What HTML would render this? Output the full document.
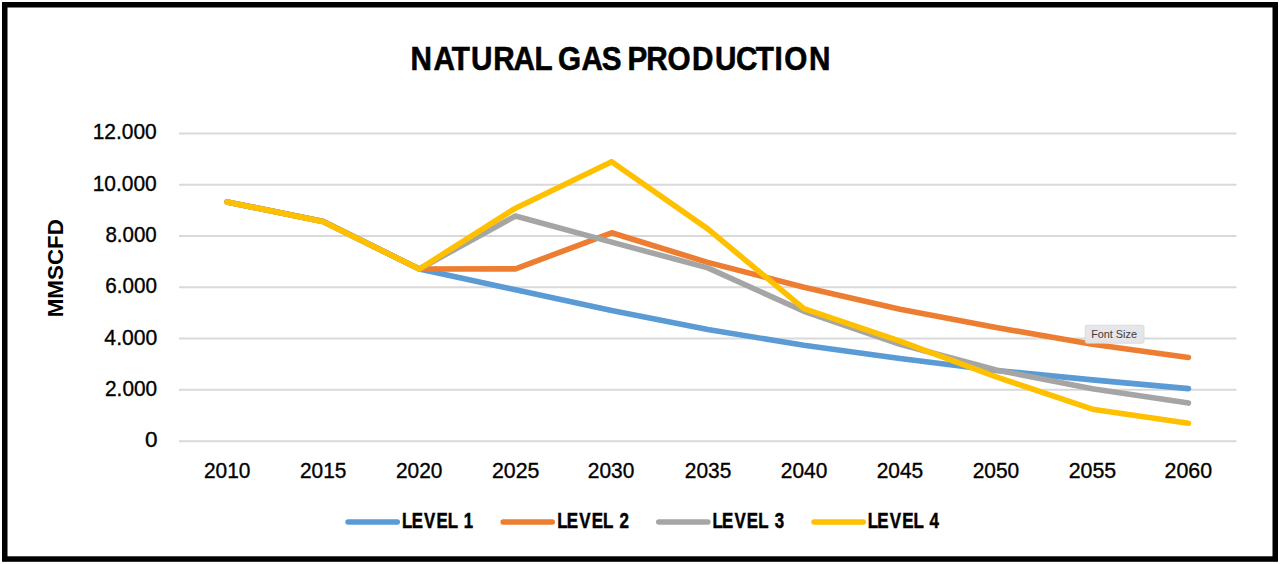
<!DOCTYPE html><html><head><meta charset="utf-8"><title>Natural Gas Production</title><style>html,body{margin:0;padding:0;background:#fff;overflow:hidden}svg{display:block}</style></head><body>
<svg width="1280" height="564" viewBox="0 0 1280 564" font-family='"Liberation Sans", Arial, sans-serif'>
<rect x="0" y="0" width="1280" height="564" fill="#fff"/>
<g stroke="#d9d9d9" stroke-width="2">
<line x1="179" y1="133.40" x2="1236.5" y2="133.40"/>
<line x1="179" y1="184.69" x2="1236.5" y2="184.69"/>
<line x1="179" y1="235.98" x2="1236.5" y2="235.98"/>
<line x1="179" y1="287.27" x2="1236.5" y2="287.27"/>
<line x1="179" y1="338.57" x2="1236.5" y2="338.57"/>
<line x1="179" y1="389.86" x2="1236.5" y2="389.86"/>
<line x1="179" y1="441.15" x2="1236.5" y2="441.15"/>
</g>
<g fill="none" stroke-width="5.6" stroke-linejoin="round" stroke-linecap="round">
<polyline points="227.07,201.9 323.21,221.6 419.35,269.0 515.49,289.7 611.63,310.5 707.77,329.6 803.91,345.2 900.05,358.5 996.19,370.5 1092.33,379.9 1188.47,388.6" stroke="#5b9bd5"/>
<polyline points="227.07,201.9 323.21,221.6 419.35,269.0 515.49,268.9 611.63,232.8 707.77,262.4 803.91,287.3 900.05,309.2 996.19,327.5 1092.33,344.3 1188.47,357.4" stroke="#ed7d31"/>
<polyline points="227.07,201.9 323.21,221.6 419.35,269.0 515.49,216.0 611.63,242.1 707.77,267.9 803.91,311.3 900.05,344.3 996.19,370.0 1092.33,388.8 1188.47,403.1" stroke="#a5a5a5"/>
<polyline points="227.07,201.9 323.21,221.8 419.35,269.0 515.49,208.2 611.63,161.7 707.77,228.9 803.91,308.7 900.05,341.2 996.19,376.9 1092.33,409.2 1188.47,423.3" stroke="#ffc000"/>
</g>
<line x1="348.05" y1="522.1" x2="397.25" y2="522.1" stroke="#5b9bd5" stroke-width="5.5" stroke-linecap="round"/>
<line x1="503.15" y1="522.1" x2="552.25" y2="522.1" stroke="#ed7d31" stroke-width="5.5" stroke-linecap="round"/>
<line x1="658.75" y1="522.1" x2="707.85" y2="522.1" stroke="#a5a5a5" stroke-width="5.5" stroke-linecap="round"/>
<line x1="814.00" y1="522.1" x2="863.25" y2="522.1" stroke="#ffc000" stroke-width="5.5" stroke-linecap="round"/>
<rect x="1085.2" y="325.2" width="58.8" height="18" rx="1.8" fill="#e6e5e8" stroke="#d6d5d9" stroke-width="0.8"/>
<text id="y0" x="92.66" y="139.40" font-size="22" fill="#000" stroke="#000" stroke-width="0.35" textLength="64.11" lengthAdjust="spacingAndGlyphs">12.000</text>
<text id="y1" x="92.66" y="190.69" font-size="22" fill="#000" stroke="#000" stroke-width="0.35" textLength="64.11" lengthAdjust="spacingAndGlyphs">10.000</text>
<text id="y2" x="105.41" y="241.98" font-size="22" fill="#000" stroke="#000" stroke-width="0.35" textLength="51.35" lengthAdjust="spacingAndGlyphs">8.000</text>
<text id="y3" x="105.23" y="293.27" font-size="22" fill="#000" stroke="#000" stroke-width="0.35" textLength="51.71" lengthAdjust="spacingAndGlyphs">6.000</text>
<text id="y4" x="104.36" y="344.57" font-size="22" fill="#000" stroke="#000" stroke-width="0.35" textLength="52.95" lengthAdjust="spacingAndGlyphs">4.000</text>
<text id="y5" x="105.05" y="395.86" font-size="22" fill="#000" stroke="#000" stroke-width="0.35" textLength="52.08" lengthAdjust="spacingAndGlyphs">2.000</text>
<text id="y6" x="144.98" y="447.15" font-size="22" fill="#000" stroke="#000" stroke-width="0.35" textLength="12.52" lengthAdjust="spacingAndGlyphs">0</text>
<text id="x0" x="203.99" y="477.60" font-size="22" fill="#000" stroke="#000" stroke-width="0.35" textLength="46.53" lengthAdjust="spacingAndGlyphs">2010</text>
<text id="x1" x="299.97" y="477.60" font-size="22" fill="#000" stroke="#000" stroke-width="0.35" textLength="46.51" lengthAdjust="spacingAndGlyphs">2015</text>
<text id="x2" x="395.94" y="477.60" font-size="22" fill="#000" stroke="#000" stroke-width="0.35" textLength="46.48" lengthAdjust="spacingAndGlyphs">2020</text>
<text id="x3" x="491.89" y="477.60" font-size="22" fill="#000" stroke="#000" stroke-width="0.35" textLength="47.52" lengthAdjust="spacingAndGlyphs">2025</text>
<text id="x4" x="587.84" y="477.60" font-size="22" fill="#000" stroke="#000" stroke-width="0.35" textLength="46.51" lengthAdjust="spacingAndGlyphs">2030</text>
<text id="x5" x="684.79" y="477.60" font-size="22" fill="#000" stroke="#000" stroke-width="0.35" textLength="46.57" lengthAdjust="spacingAndGlyphs">2035</text>
<text id="x6" x="780.75" y="477.60" font-size="22" fill="#000" stroke="#000" stroke-width="0.35" textLength="46.53" lengthAdjust="spacingAndGlyphs">2040</text>
<text id="x7" x="876.67" y="477.60" font-size="22" fill="#000" stroke="#000" stroke-width="0.35" textLength="46.60" lengthAdjust="spacingAndGlyphs">2045</text>
<text id="x8" x="972.71" y="477.60" font-size="22" fill="#000" stroke="#000" stroke-width="0.35" textLength="46.51" lengthAdjust="spacingAndGlyphs">2050</text>
<text id="x9" x="1068.64" y="477.60" font-size="22" fill="#000" stroke="#000" stroke-width="0.35" textLength="47.52" lengthAdjust="spacingAndGlyphs">2055</text>
<text id="x10" x="1164.60" y="477.60" font-size="22" fill="#000" stroke="#000" stroke-width="0.35" textLength="47.52" lengthAdjust="spacingAndGlyphs">2060</text>
<text id="font" x="1091.15" y="337.80" font-size="10.5" fill="#3c3c3e" textLength="45.82" lengthAdjust="spacingAndGlyphs">Font Size</text>
<text transform="scale(0.8938 1)" x="459.43 484.90 505.46 526.96 551.91 574.63 598.01 603.01 624.32 650.66 673.14 678.14 701.97 722.98 746.89 774.29 799.90 823.49 845.52 866.39 877.40 905.00" y="69.9" font-size="33.2" font-weight="bold" stroke="#000" stroke-width="0.6">NATURAL GAS PRODUCTION</text>
<text transform="scale(0.7834 1)" x="513.22 525.47 541.31 557.19 571.68 576.68 592.00" y="527.9" font-size="21.5" font-weight="bold" stroke="#000" stroke-width="0.5">LEVEL 1</text>
<text transform="scale(0.7895 1)" x="705.79 717.94 733.66 749.42 763.80 768.80 784.60" y="527.9" font-size="21.5" font-weight="bold" stroke="#000" stroke-width="0.5">LEVEL 2</text>
<text transform="scale(0.7844 1)" x="908.24 920.48 936.30 952.16 966.63 971.63 987.64" y="527.9" font-size="21.5" font-weight="bold" stroke="#000" stroke-width="0.5">LEVEL 3</text>
<text transform="scale(0.7891 1)" x="1099.61 1111.77 1127.50 1143.26 1157.65 1162.65 1177.97" y="527.9" font-size="21.5" font-weight="bold" stroke="#000" stroke-width="0.5">LEVEL 4</text>
<text transform="translate(63.2,317.3) rotate(-90)" x="0" y="0" font-size="22.4" font-weight="bold" textLength="98.2" lengthAdjust="spacingAndGlyphs">MMSCFD</text>
<rect x="4.75" y="4.75" width="1270.5" height="554.3" fill="none" stroke="#000" stroke-width="5.5"/>
</svg></body></html>
